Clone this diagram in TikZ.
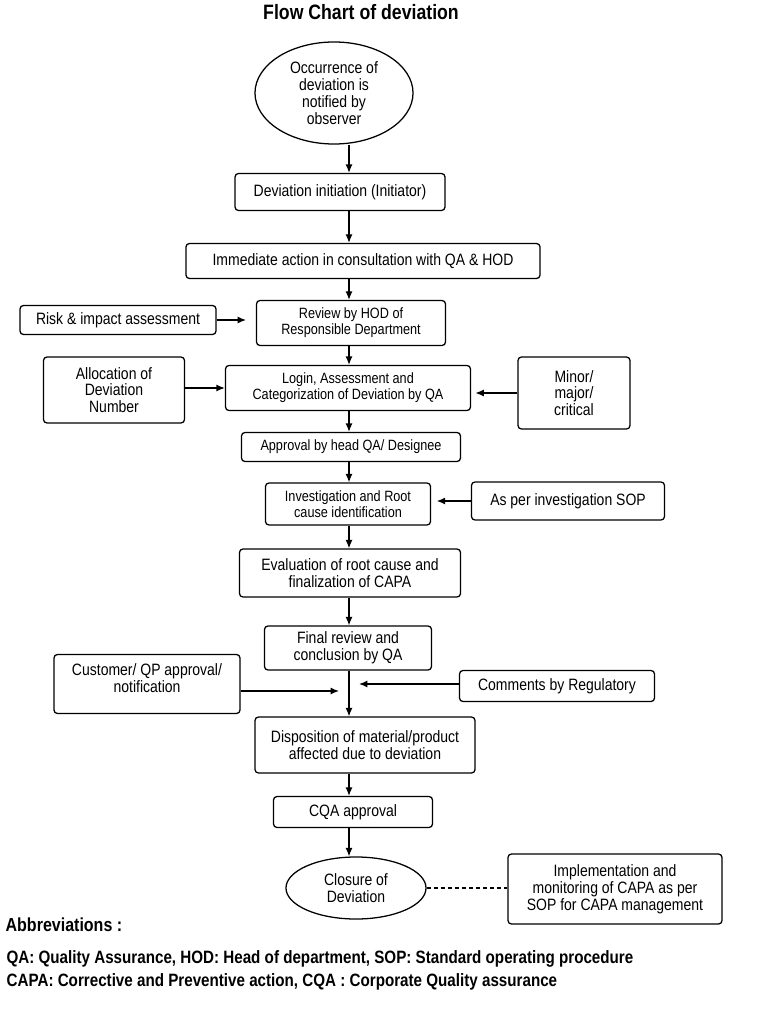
\documentclass[tikz,border=0pt]{standalone}
\usepackage{fontspec}
\setmainfont[FakeStretch=0.85]{Liberation Sans}
\usetikzlibrary{
    shapes.geometric,
    arrows.meta
}
\newcommand{\boxfont}{\fontsize{11.7}{12}\selectfont}
\newcommand{\sboxfont}{\fontsize{10.6}{11.3}\selectfont}
\newcommand{\headfont}{\fontsize{14.8}{16}\selectfont\bfseries}
\newcommand{\abbrfont}{\fontsize{12.7}{14}\selectfont\bfseries}
\tikzset{
  every path/.style={
    black,
    line width=0.9pt
  },
  box/.style={
    draw,
    rectangle,
    rounded corners=2.5pt,
    align=center,
    inner sep=1.5pt,
    font=\boxfont
  },
  sbox/.style={
    box,
    font=\sboxfont
  },
  oval/.style={
    draw,
    ellipse,
    align=center,
    inner sep=0pt,
    font=\boxfont
  },
  flow/.style={
    -{Latex[length=6pt,width=5pt]}
  },
  abbr/.style={
    anchor=west,
    inner sep=0pt,
    font=\abbrfont
  }
}

\begin{document}
\begin{tikzpicture}[x=0.025cm, y=-0.025cm]
\useasboundingbox (0,0) rectangle (782,1023);
\coordinate (col) at (349,0);
\node[font=\headfont] (title) at (361,12) {Flow Chart of deviation};
% main column
\node[oval, minimum width=3.95cm, minimum height=2.55cm] (occ) at (334,93)
    {Occurrence of\\deviation is\\notified by\\observer};
\node[box, minimum width=5.25cm, minimum height=0.925cm] (init) at (340,192)
    {Deviation initiation (Initiator)};
\node[box, minimum width=8.85cm, minimum height=0.875cm] (immed) at (363,261)
    {Immediate action in consultation with QA \& HOD};
\node[sbox, minimum width=4.725cm, minimum height=1.125cm] (review) at (351,323)
    {Review by HOD of\\Responsible Department};
\node[sbox, minimum width=6.125cm, minimum height=1.125cm] (login) at (348,388)
    {Login, Assessment and\\Categorization of Deviation by QA};
\node[sbox, minimum width=5.475cm, minimum height=0.725cm] (approv) at (351,447)
    {Approval by head QA/ Designee};
\node[sbox, minimum width=4.125cm, minimum height=1.05cm] (invest) at (348,504)
    {Investigation and Root\\cause identification};
\node[box, minimum width=5.525cm, minimum height=1.2cm] (eval) at (350,573)
    {Evaluation of root cause and\\finalization of CAPA};
\node[box, minimum width=4.175cm, minimum height=1.1cm] (final) at (348,648)
    {Final review and\\conclusion by QA};
\node[box, minimum width=5.5cm, minimum height=1.4cm] (disp) at (365,745)
    {Disposition of material/product\\affected due to deviation};
\node[box, minimum width=3.975cm, minimum height=0.775cm] (cqa) at (353,812)
    {CQA approval};
\node[oval, minimum width=3.5cm, minimum height=1.55cm] (closure) at (356,888)
    {Closure of\\Deviation};
% side boxes
\node[box, minimum width=4.9cm, minimum height=0.725cm] (risk) at (118,320)
    {Risk \& impact assessment};
\node[box, minimum width=3.525cm, minimum height=1.65cm] (alloc) at (114,390)
    {Allocation of\\Deviation\\Number};
\node[box, minimum width=2.8cm, minimum height=1.8cm] (minor) at (574,393)
    {Minor/\\major/\\critical};
\node[box, minimum width=4.825cm, minimum height=0.95cm] (asper) at (568,501)
    {As per investigation SOP};
\node[box, minimum width=4.65cm, minimum height=1.475cm] (cust) at (147,684)
    {Customer/ QP approval/\\notification\\[-3pt]\mbox{}};
\node[box, minimum width=4.875cm, minimum height=0.775cm] (comm) at (557,686)
    {Comments by Regulatory};
\node[box, minimum width=5.35cm, minimum height=1.75cm] (impl) at (615,889)
    {Implementation and\\monitoring of CAPA as per\\SOP for CAPA management};
\coordinate (custend) at (339,691);
\coordinate (commend) at (359,684);
% connectors
\foreach \a/\b in {occ/init, init/immed, immed/review, review/login, login/approv,
    approv/invest, invest/eval, eval/final, final/disp, disp/cqa, cqa/closure} {
  \draw[flow] (\a.south -| col) -- (\b.north -| col);
}
\draw[flow, shorten >=7pt] (risk.east) -- (risk.east -| review.west);
\draw[flow] (login.west -| alloc.east) -- (login.west);
\draw[flow, shorten >=3pt] (minor.west) -- (minor.west -| login.east);
\draw[flow, shorten >=4pt] (asper.west) -- (asper.west -| invest.east);
\draw[flow] (custend -| cust.east) -- (custend);
\draw[flow] (commend -| comm.west) -- (commend);
\draw[dash pattern=on 3pt off 2pt] (closure.east) -- (closure.east -| impl.west);
% abbreviations
\node[abbr, font=\fontsize{13.4}{15}\selectfont\bfseries] (abbrhead) at (5,925) {Abbreviations :};
\node[abbr] (abbrone) at (6,959)
    {QA: Quality Assurance, HOD: Head of department, SOP: Standard operating procedure};
\node[abbr] (abbrtwo) at (6,982)
    {CAPA: Corrective and Preventive action, CQA : Corporate Quality assurance};
\end{tikzpicture}
\end{document}
